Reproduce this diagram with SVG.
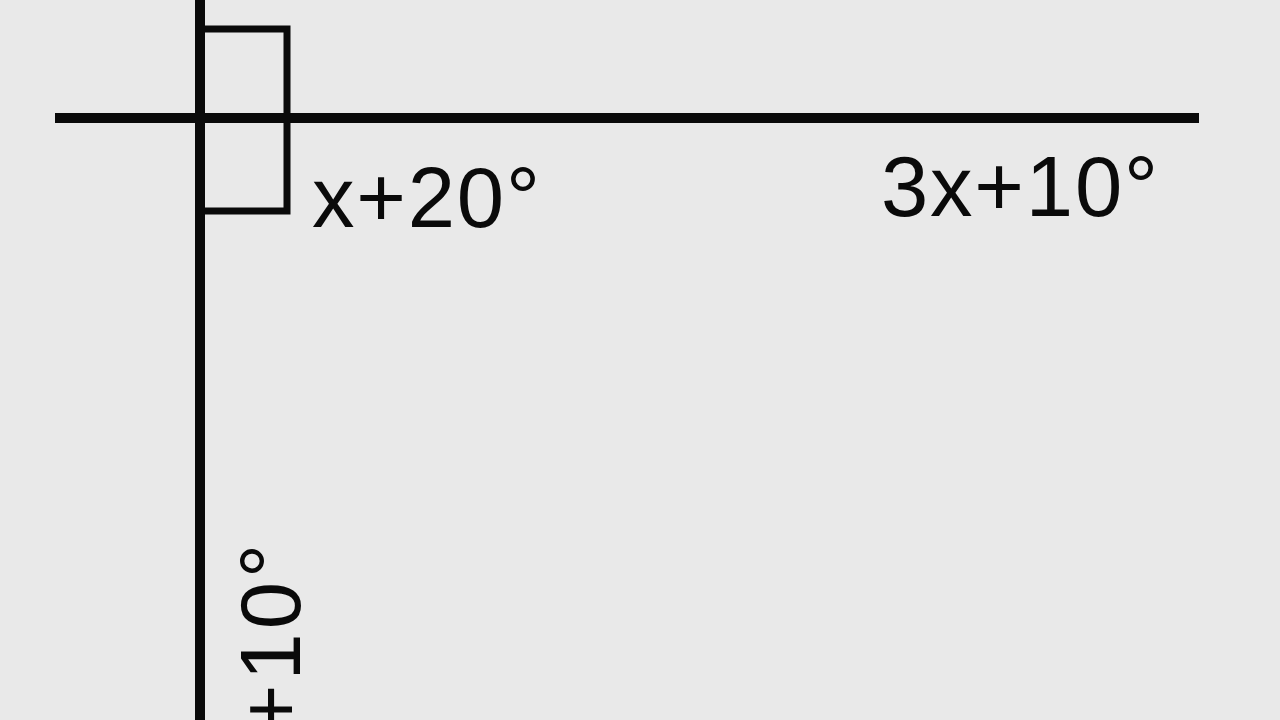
<svg xmlns="http://www.w3.org/2000/svg" width="1280" height="720" viewBox="0 0 1280 720">
  <style>
    .ln { stroke: #0a0a0a; stroke-width: 10; fill: none; }
    .mark { stroke: #0a0a0a; stroke-width: 7; fill: none; }
    .lbl { font-family: "Liberation Sans", Arial, sans-serif; font-size: 85px; fill: #0a0a0a; letter-spacing: 1.8px; }
  </style>
  <rect x="0" y="0" width="1280" height="720" fill="#e9e9e9"/>
  <g id="connectors">
    <line class="ln" x1="200" y1="0" x2="200" y2="720"/>
    <line class="ln" x1="55" y1="118" x2="1199" y2="118"/>
  </g>
  <g id="right-angle-mark">
    <polyline class="mark" points="200,29 287,29 287,211 200,211"/>
  </g>
  <g id="label-x20">
    <text class="lbl" x="312" y="227">x+20°</text>
  </g>
  <g id="label-3x10">
    <text class="lbl" x="881" y="216">3x+10°</text>
  </g>
  <g id="label-vertical">
    <text class="lbl" transform="translate(300,540) rotate(-90)" x="0" y="0" text-anchor="end" style="letter-spacing:4px">+10°</text>
  </g>
</svg>
